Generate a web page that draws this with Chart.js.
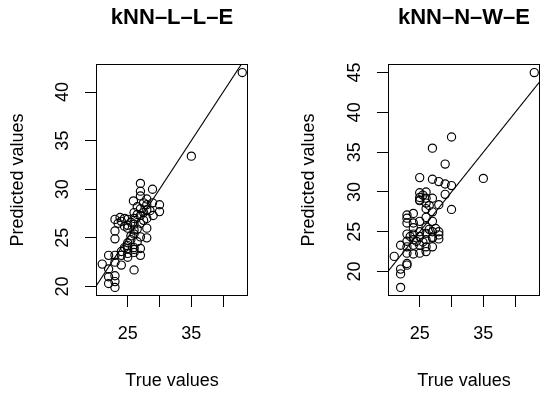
<!DOCTYPE html>
<html>
<head>
<meta charset="utf-8">
<script src="https://cdn.jsdelivr.net/npm/chart.js@4/dist/chart.umd.min.js"></script>
<style>
  html, body { margin: 0; padding: 0; background: #fff; overflow: hidden; }
  #wrap { position: relative; width: 550px; height: 393px; }
  canvas { position: absolute; top: 0; }
</style>
</head>
<body>
<div id="wrap">
  <canvas id="c1" width="275" height="393" style="left:0px"></canvas>
  <canvas id="c2" width="275" height="393" style="left:275px"></canvas>
</div>
<script>
// ---- data ----
const titles = ['kNN\u2013L\u2013L\u2013E', 'kNN\u2013N\u2013W\u2013E'];
const xTitle = 'True values';
const yTitle = 'Predicted values';

const xTicks = [25, 30, 35, 40];
const xTickLabels = [25, 35];
const yTicksLLE = [20, 25, 30, 35, 40];
const yTicksNWE = [20, 25, 30, 35, 40, 45];

const xRange = [20.02, 43.9];
const yRangeLLE = [19.02, 42.88];
const yRangeNWE = [16.92, 46.08];

// identity (y = x) reference line end values
const identityLine = [15, 50];

const lleTrue = [43.0, 35.0, 27.0, 27.0, 28.9, 25.9, 27.0, 28.0, 30.0, 30.0,
                 28.9, 27.0, 28.0, 26.0, 27.0, 29.0, 28.0, 26.0, 23.0, 23.8,
                 24.0, 25.0, 25.0, 26.0, 27.0, 23.0, 25.0, 26.0, 28.0, 23.0,
                 27.0, 28.0, 26.0, 25.0, 25.0, 25.0, 26.0, 26.0, 27.0, 27.0,
                 25.0, 24.0, 24.0, 23.0, 23.0, 22.0, 21.0, 22.0, 26.0, 22.0,
                 23.0, 22.0, 23.0, 23.0, 26.0, 25.0, 24.5, 26.5, 27.5, 24.5,
                 26.5, 28.0, 24.0, 25.5, 26.5, 25.5, 24.5, 25.5, 26.5, 27.5,
                 23.5, 27.5, 28.5];
const llePred = [42.0, 33.4, 30.6, 29.8, 30.0, 28.8, 29.3, 29.0, 28.4, 27.7,
                 28.6, 28.0, 27.9, 27.6, 27.3, 27.3, 27.0, 27.0, 26.9, 27.1,
                 26.7, 26.9, 26.3, 26.4, 26.5, 25.7, 26.0, 25.8, 26.0, 24.9,
                 25.1, 25.0, 25.4, 24.5, 24.2, 23.9, 24.0, 23.5, 23.9, 23.2,
                 23.0, 23.2, 22.2, 23.2, 22.5, 23.2, 22.3, 21.8, 21.7, 21.0,
                 21.1, 20.3, 20.5, 19.9, 23.8, 23.4, 27.0, 28.2, 26.8, 26.2,
                 24.6, 28.4, 23.6, 25.2, 25.9, 26.6, 24.0, 24.8, 27.4, 28.6,
                 26.5, 27.6, 27.8];

const nweTrue = [43, 35, 30, 27, 29, 25, 27, 28, 29, 30,
                 29, 28, 30, 26, 25, 25, 26, 27, 26, 27,
                 27, 24, 23, 23, 23, 24, 25, 26, 28, 28,
                 28, 27, 27, 26, 26, 25, 25, 24, 24, 23,
                 23, 24, 24, 23, 23, 25, 25, 26, 26, 27,
                 27, 22, 21, 23, 23, 22, 22, 22, 25, 26,
                 24, 26, 25.5, 25, 26.5, 27.5, 24.5, 23.5, 25.5, 26.5];
const nwePred = [45.0, 31.7, 36.9, 35.5, 33.5, 31.8, 31.6, 31.3, 31.0, 30.8,
                 29.7, 28.4, 27.8, 30.0, 29.3, 28.9, 29.2, 29.2, 27.9, 27.5,
                 26.3, 27.3, 27.1, 26.7, 26.1, 26.1, 26.3, 25.6, 25.0, 24.6,
                 24.1, 25.0, 24.3, 24.8, 24.0, 24.4, 25.0, 24.7, 24.0, 24.7,
                 23.8, 23.3, 22.2, 23.1, 22.3, 23.3, 22.3, 23.1, 22.5, 24.2,
                 23.1, 23.3, 21.9, 21.0, 20.8, 20.3, 19.7, 18.0, 29.0, 28.6,
                 25.5, 26.8, 29.6, 29.9, 25.3, 25.4, 23.8, 24.4, 23.7, 28.3];

// ---- drawing ----
const FONT = '"Liberation Sans", Arial, Helvetica, sans-serif';

const boxPlugin = {
  id: 'plotBox',
  afterDraw(chart) {
    const a = chart.chartArea, ctx = chart.ctx;
    ctx.save();
    ctx.strokeStyle = '#000';
    ctx.lineWidth = 1;
    ctx.strokeRect(Math.round(a.left) + 0.5, Math.round(a.top) + 0.5,
                   Math.round(a.right - a.left) - 1, Math.round(a.bottom - a.top) - 1);
    ctx.restore();
  }
};

function makeChart(id, title, xs, ys, yTicks, yRange, yAxisWidth, rightPad, yTitlePad) {
  const pts = xs.map((x, i) => ({x: x, y: ys[i]}));
  const line = identityLine.map(v => ({x: v, y: v}));
  return new Chart(document.getElementById(id), {
    type: 'scatter',
    data: {
      datasets: [
        { data: pts, pointStyle: 'circle', pointRadius: 4.1, pointBorderWidth: 1.15,
          pointBorderColor: '#000', pointBackgroundColor: 'rgba(0,0,0,0)' },
        { type: 'line', data: line, borderColor: '#000', borderWidth: 1.1,
          pointRadius: 0, fill: false, tension: 0 }
      ]
    },
    options: {
      responsive: false,
      animation: false,
      events: [],
      layout: { padding: { left: 0, right: rightPad, top: 0, bottom: 0 } },
      plugins: {
        legend: { display: false },
        tooltip: { enabled: false },
        title: {
          display: true, text: title, fullSize: false, color: '#000',
          font: { family: FONT, size: 22, weight: 'bold', lineHeight: 1.2 },
          padding: { top: 5, bottom: 32.6 }
        }
      },
      scales: {
        x: {
          type: 'linear', min: xRange[0], max: xRange[1],
          afterBuildTicks: s => { s.ticks = xTicks.map(v => ({value: v})); },
          afterFit: s => { s.height = 97; },
          grid: { drawOnChartArea: false, drawTicks: true, tickLength: 11, tickColor: '#000', tickWidth: 1 },
          border: { display: false },
          ticks: {
            autoSkip: false, maxRotation: 0, minRotation: 0, padding: 16, color: '#000',
            font: { family: FONT, size: 18 },
            callback: v => xTickLabels.includes(v) ? String(v) : ''
          },
          title: { display: true, text: xTitle, color: '#000',
                   font: { family: FONT, size: 18 }, padding: { top: 0, bottom: 0.7 } }
        },
        y: {
          type: 'linear', min: yRange[0], max: yRange[1],
          afterBuildTicks: s => { s.ticks = yTicks.map(v => ({value: v})); },
          afterFit: s => { s.width = yAxisWidth; },
          grid: { drawOnChartArea: false, drawTicks: true, tickLength: 11, tickColor: '#000', tickWidth: 1 },
          border: { display: false },
          ticks: {
            autoSkip: false, minRotation: 90, maxRotation: 90, crossAlign: 'center',
            padding: 12.2, color: '#000', font: { family: FONT, size: 18 },
            callback: v => String(v)
          },
          title: { display: true, text: yTitle, color: '#000',
                   font: { family: FONT, size: 18 }, padding: { top: yTitlePad, bottom: 0 } }
        }
      }
    },
    plugins: [boxPlugin]
  });
}

makeChart('c1', titles[0], lleTrue, llePred, yTicksLLE, yRangeLLE, 96, 27, 7.7);
makeChart('c2', titles[1], nweTrue, nwePred, yTicksNWE, yRangeNWE, 113, 10, 23.2);
</script>
</body>
</html>
